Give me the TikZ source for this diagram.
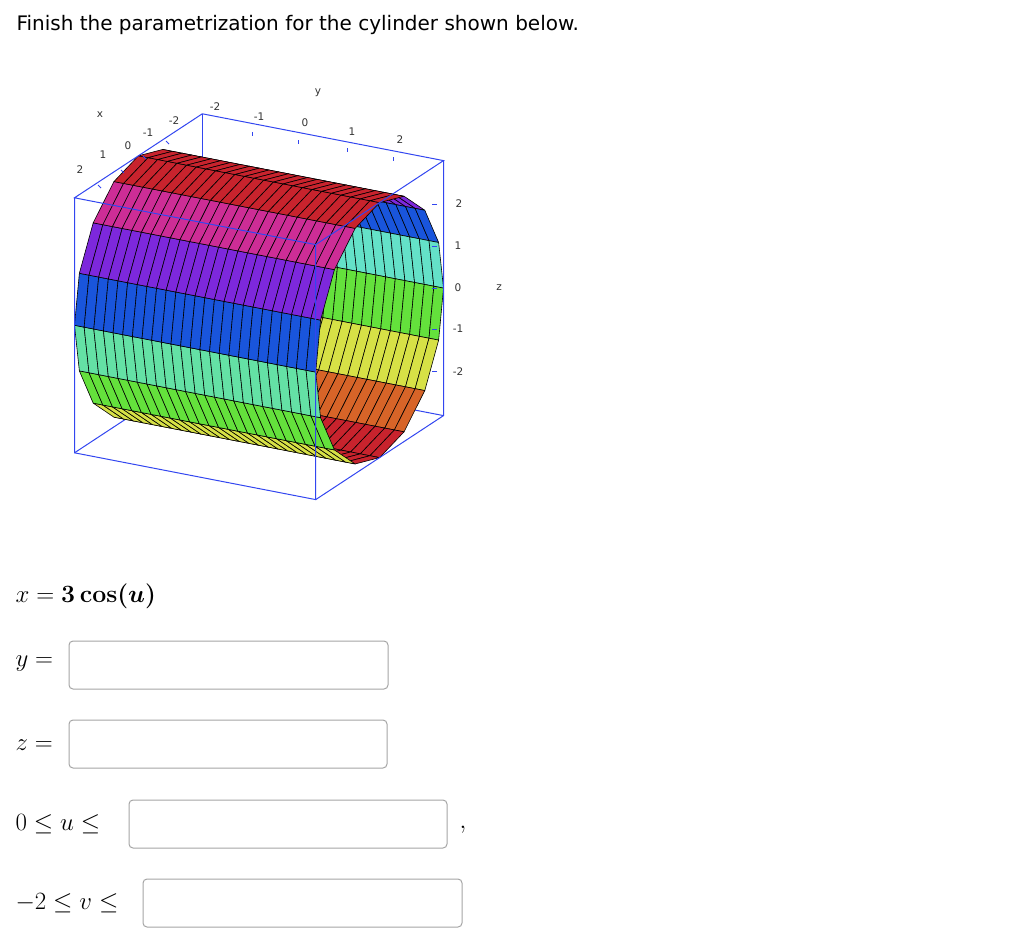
\documentclass[tikz,border=0pt]{standalone}
\usepackage[no-math]{fontspec}
\setmainfont{DejaVu Sans}
\usepackage{amsmath}
\definecolor{cred}{RGB}{200,35,45}
\definecolor{cmag}{RGB}{205,45,150}
\definecolor{cpur}{RGB}{125,40,220}
\definecolor{cblu}{RGB}{25,85,220}
\definecolor{cteal}{RGB}{100,225,165}
\definecolor{ccyan}{RGB}{100,225,200}
\definecolor{cgrn}{RGB}{100,225,60}
\definecolor{cyel}{RGB}{215,225,70}
\definecolor{corg}{RGB}{215,100,40}
\definecolor{boxblue}{RGB}{50,70,240}
\definecolor{fieldgray}{RGB}{165,165,165}
\tikzset{
  boxedge/.style={boxblue,line width=1pt},
  facet/.style={draw=black,line width=0.6pt,line join=round},
  axlab/.style={font=\fontsize{10.5}{12}\selectfont,text=black!80},
  field/.style={draw=fieldgray,line width=1pt,rounded corners=4pt},
  mathlab/.style={font=\fontsize{25}{30}\selectfont,anchor=west},
}
\begin{document}
\begin{tikzpicture}[x=1pt,y=-1pt]
\useasboundingbox (0,0) rectangle (1024,950);
\node[anchor=west,font=\fontsize{20}{24}\selectfont] (title) at (13,25) {Finish the parametrization for the cylinder shown below.};
\begin{scope}[shift={(259,306.7)}]
\begin{scope}[x={(-21.3pt,-14pt)},y={(60.3pt,-11.7pt)},z={(0pt,42.5pt)}]
 \coordinate (A) at (3,-2,3);
 \coordinate (B) at (-3,-2,3);
 \coordinate (C) at (-3,2,3);
 \coordinate (D) at (3,2,3);
 \coordinate (E) at (3,-2,-3);
 \coordinate (F) at (3,2,-3);
 \coordinate (G) at (-3,2,-3);
 \coordinate (H) at (-3,-2,-3);
 \draw[boxedge] (E) -- (H) -- (G);
 \draw[boxedge] (H) -- (B);
 \foreach \ua/\col in {112.5/cpur,135/cblu,157.5/ccyan,180/cgrn,202.5/cyel,225/corg,247.5/cred,270/cred}{
   \pgfmathsetmacro\ub{\ua+22.5}
   \foreach \j in {0,...,24}{
     \pgfmathsetmacro\ya{-2+0.16*\j}
     \pgfmathsetmacro\yb{\ya+0.16}
     \filldraw[facet,fill=\col] ({3*cos(\ua)},\ya,{3*sin(\ua)}) -- ({3*cos(\ua)},\yb,{3*sin(\ua)}) -- ({3*cos(\ub)},\yb,{3*sin(\ub)}) -- ({3*cos(\ub)},\ya,{3*sin(\ub)}) -- cycle;
   }
 }
 \foreach \ua/\col in {-67.5/cyel,-45/cgrn,-22.5/cteal,0/cblu,22.5/cpur,45/cmag,67.5/cred,90/cred}{
   \pgfmathsetmacro\ub{\ua+22.5}
   \foreach \j in {0,...,24}{
     \pgfmathsetmacro\ya{-2+0.16*\j}
     \pgfmathsetmacro\yb{\ya+0.16}
     \filldraw[facet,fill=\col] ({3*cos(\ua)},\ya,{3*sin(\ua)}) -- ({3*cos(\ua)},\yb,{3*sin(\ua)}) -- ({3*cos(\ub)},\yb,{3*sin(\ub)}) -- ({3*cos(\ub)},\ya,{3*sin(\ub)}) -- cycle;
   }
 }
 \draw[boxedge] (A) -- (B) -- (C) -- (D) -- cycle;
 \draw[boxedge] (A) -- (E) -- (F) -- (D);
 \draw[boxedge] (C) -- (G) -- (F);
\end{scope}
\end{scope}
\foreach \px/\py in {252/132,298/140,347/148,393/157}{\draw[boxblue,line width=0.8pt] (\px,\py) -- ++(0,4);}
\foreach \px/\py in {98/185,121/170,143/156,166/141}{\draw[boxblue,line width=0.8pt] (\px,\py) -- ++(3,3);}
\foreach \py in {204,246,288,329,371}{\draw[boxblue,line width=0.8pt] (437,\py) -- ++(-5,0);}
\node[axlab] (ly) at (318,93) {y};
\node[axlab] (ym2) at (215,107) {-2};
\node[axlab] (ym1) at (259,117) {-1};
\node[axlab] (y0) at (305,123) {0};
\node[axlab] (y1) at (352,132) {1};
\node[axlab] (y2) at (400,140) {2};
\node[axlab] (lx) at (100,115) {x};
\node[axlab] (x2) at (80,170) {2};
\node[axlab] (x1) at (103,155) {1};
\node[axlab] (x0) at (128,146) {0};
\node[axlab] (xm1) at (148,133) {-1};
\node[axlab] (xm2) at (174,121) {-2};
\node[axlab] (z2) at (459,204) {2};
\node[axlab] (z1) at (458,246) {1};
\node[axlab] (z0) at (458,288) {0};
\node[axlab] (zm1) at (458,329) {-1};
\node[axlab] (zm2) at (458,372) {-2};
\node[axlab] (lz) at (499,288) {z};
\node[mathlab] (eqx) at (12,596) {$x = \boldsymbol{3\cos(u)}$};
\node[mathlab] (eqy) at (12,664) {$y =$};
\node[mathlab] (eqz) at (12,745) {$z =$};
\node[mathlab] (equ) at (12,824) {$0 \le u \le$};
\node[mathlab] (eqv) at (12,903) {$-2 \le v \le$};
\draw[field] (69,641) rectangle (388,689);
\draw[field] (69,720) rectangle (387,768);
\draw[field] (129,800) rectangle (447,848);
\draw[field] (143,879) rectangle (462,927);
\node[mathlab] (comma) at (456,830) {$,$};
\end{tikzpicture}
\end{document}
